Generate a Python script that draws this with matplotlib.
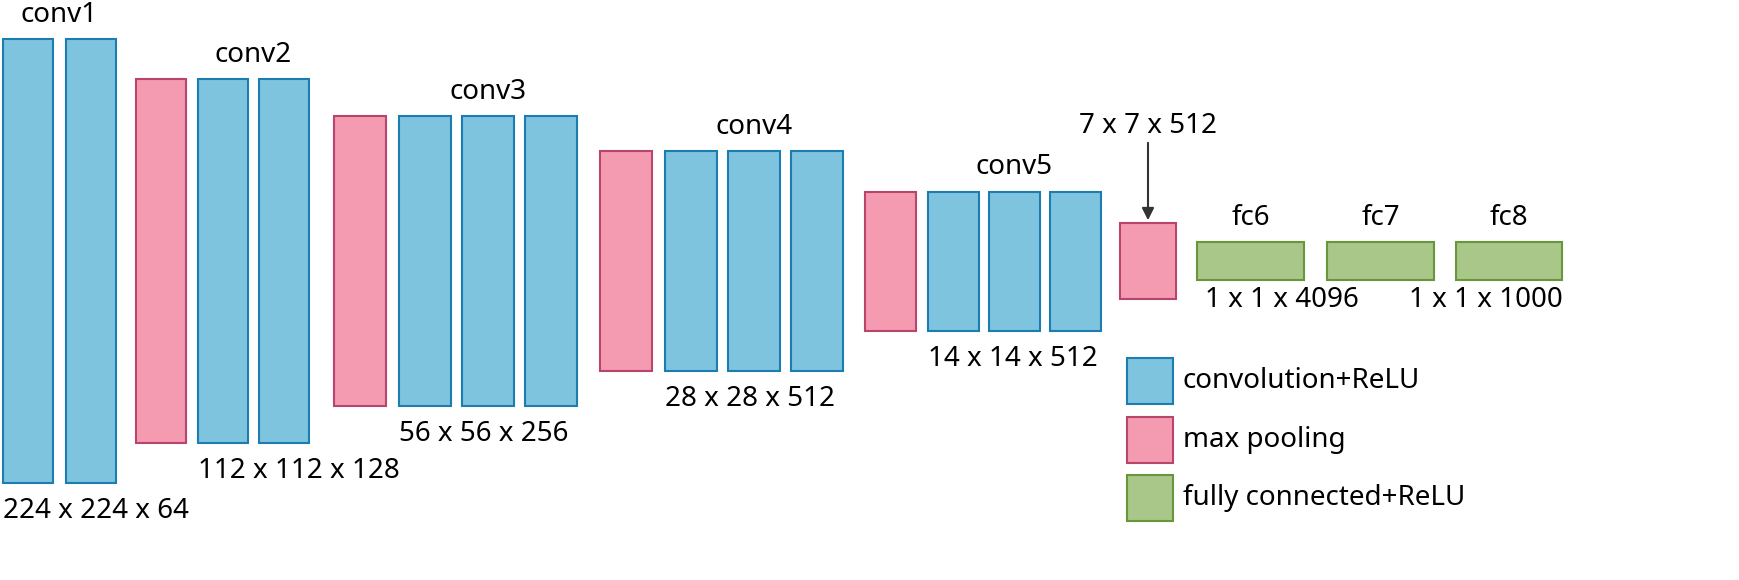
import matplotlib.pyplot as plt
from matplotlib.patches import Rectangle

# layer layout: (kind, count, block height, block width, left x)
kinds = ["conv", "pool", "conv", "pool", "conv", "pool", "conv", "pool", "conv", "pool", "fc", "fc", "fc"]
counts = [2, 1, 2, 1, 3, 1, 3, 1, 3, 1, 1, 1, 1]
heights = [444, 364, 364, 290, 290, 220, 220, 139, 139, 76, 38, 38, 38]
widths = [50, 50, 50, 52, 52, 52, 52, 51, 51, 56, 107, 107, 106]
lefts = [3, 136, 198, 334, 399, 600, 665, 865, 928, 1120, 1197, 1327, 1456]
inner_gaps = [13, 0, 11, 0, 11, 0, 11, 0, 10, 0, 0, 0, 0]

conv_names = ["conv1", "conv2", "conv3", "conv4", "conv5"]
conv_dims = ["224 x 224 x 64", "112 x 112 x 128", "56 x 56 x 256", "28 x 28 x 512", "14 x 14 x 512"]
fc_names = ["fc6", "fc7", "fc8"]
fc_dims = ["1 x 1 x 4096", "", "1 x 1 x 1000"]
fc_dim_shift = [31, 0, -23]
pool5_dim = "7 x 7 x 512"
legend_labels = ["convolution+ReLU", "max pooling", "fully connected+ReLU"]

colors = {"conv": ("#7fc4df", "#1b7db0"), "pool": ("#f49ab1", "#b8456b"), "fc": ("#a9c789", "#67973a")}
center_y = 261
fs = 20

plt.rcParams['font.family'] = ['Noto Sans', 'DejaVu Sans']
fig = plt.figure(figsize=(17.4, 5.8), dpi=100)
ax = fig.add_axes([0, 0, 1, 1])
ax.set_xlim(0, 1740)
ax.set_ylim(580, 0)
ax.axis('off')

conv_i = 0
fc_i = 0
for kind, n, h, w, x0, g in zip(kinds, counts, heights, widths, lefts, inner_gaps):
    fc_, ec = colors[kind]
    top = center_y - h / 2
    for k in range(n):
        ax.add_patch(Rectangle((x0 + k * (w + g), top), w, h, facecolor=fc_, edgecolor=ec, lw=1.5))
    right = x0 + n * w + (n - 1) * g
    mid = (x0 + right) / 2
    if kind == "conv":
        ax.text(mid, top - 10, conv_names[conv_i], ha='center', va='bottom', fontsize=fs)
        ax.text(x0, top + h + 14, conv_dims[conv_i], ha='left', va='top', fontsize=fs)
        conv_i += 1
    elif kind == "fc":
        ax.text(mid, top - 10, fc_names[fc_i], ha='center', va='bottom', fontsize=fs)
        if fc_dims[fc_i]:
            ax.text(mid + fc_dim_shift[fc_i], top + h + 6, fc_dims[fc_i],
                    ha='center', va='top', fontsize=fs)
        fc_i += 1
    elif h == heights[9]:
        ax.text(mid, 126, pool5_dim, ha='center', va='center', fontsize=fs)
        ax.annotate("", xy=(mid, top), xytext=(mid, 140),
                    arrowprops=dict(arrowstyle='-|>', color='#333333', lw=1.5, mutation_scale=18))

for i, (lab, kind) in enumerate(zip(legend_labels, ["conv", "pool", "fc"])):
    fc_, ec = colors[kind]
    y = 358 + i * 58.5
    ax.add_patch(Rectangle((1127, y), 46, 46, facecolor=fc_, edgecolor=ec, lw=1.5))
    ax.text(1183, y + 23, lab, ha='left', va='center', fontsize=fs)

fig.savefig("out.png", dpi=100)
